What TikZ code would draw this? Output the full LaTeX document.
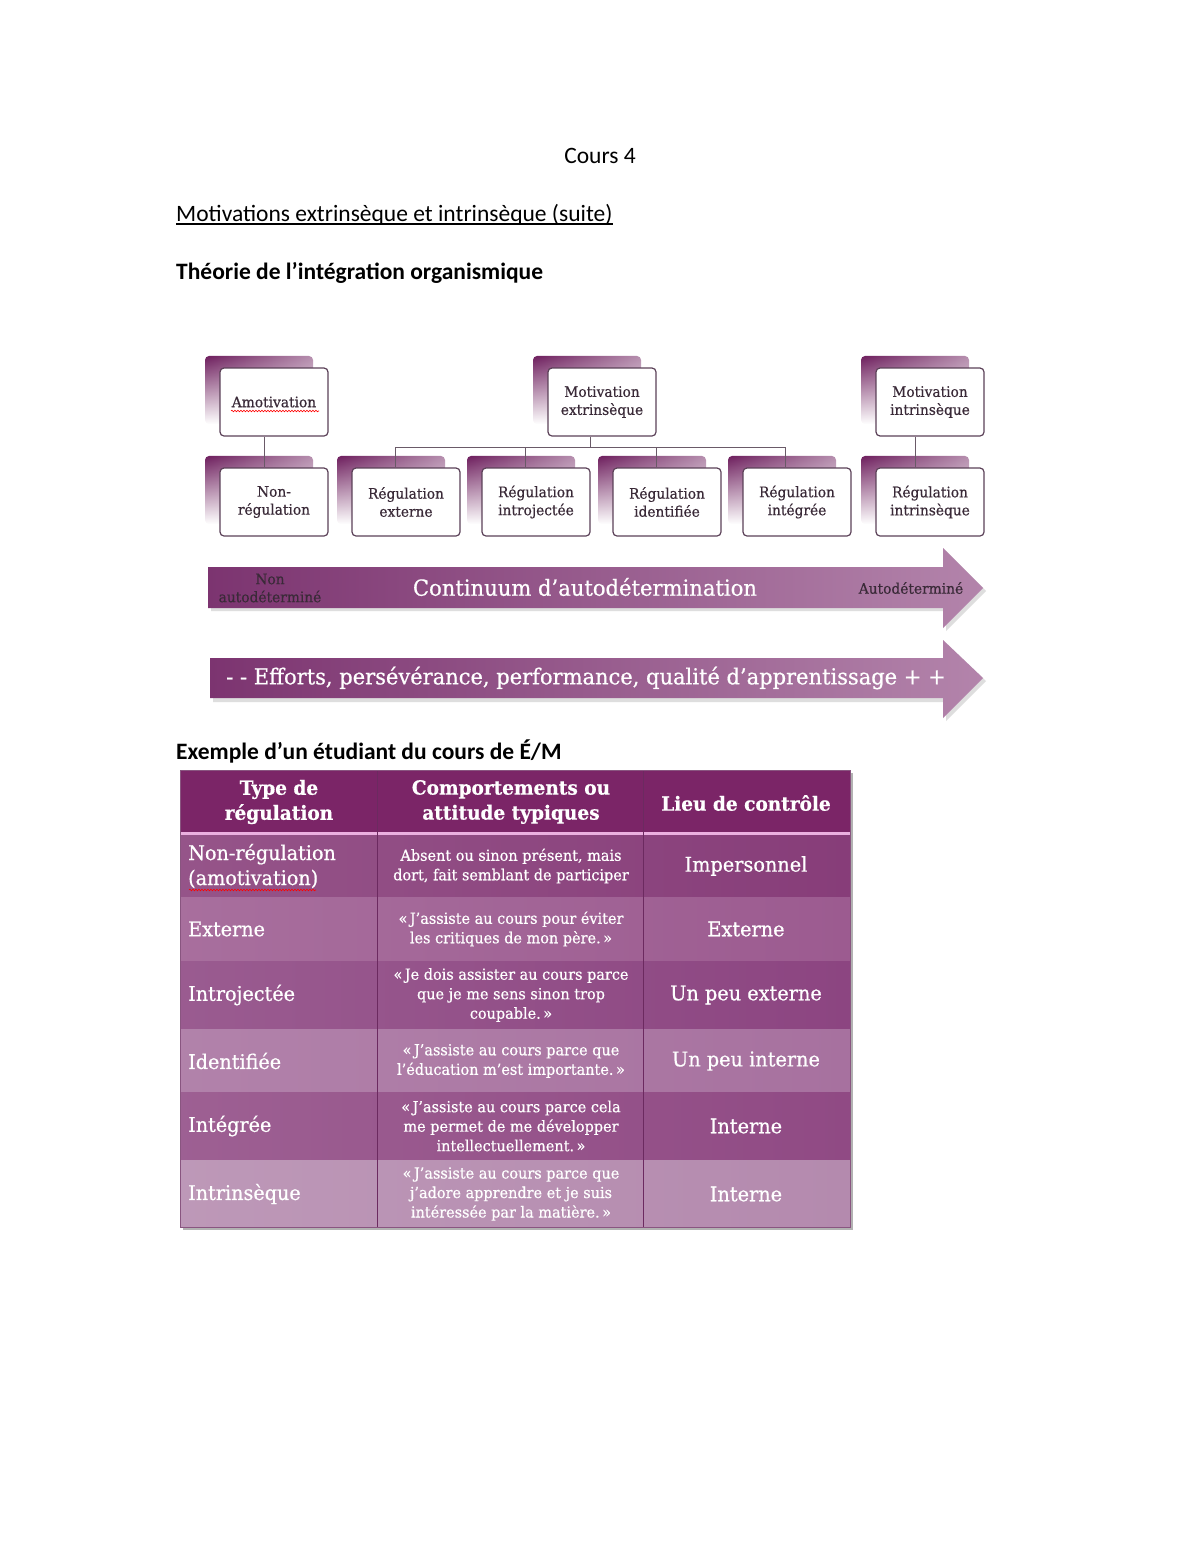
\documentclass[tikz,border=0pt]{standalone}
\usepackage{fontspec}
\setmainfont{Carlito}
\newfontfamily\slab{DejaVu Serif}[FakeStretch=0.95, FakeBold=0.6]
\usetikzlibrary{fadings,shadings,decorations.pathmorphing}
\definecolor{pdark}{HTML}{6E1F5E}
\definecolor{boxline}{HTML}{5B4158}
\definecolor{conncol}{HTML}{6A5A68}
\definecolor{arrL}{HTML}{7C3470}
\definecolor{arrR}{HTML}{B384AB}
\definecolor{thead}{HTML}{7B2567}
\definecolor{rowA}{HTML}{873D79}
\definecolor{rowB}{HTML}{9C5B90}
\definecolor{rowC}{HTML}{8C4581}
\definecolor{rowD}{HTML}{A7719F}
\definecolor{rowE}{HTML}{904A84}
\definecolor{rowF}{HTML}{B48AAE}
\definecolor{pinkline}{HTML}{EBB0E0}
\definecolor{colline}{HTML}{6C2A60}
\definecolor{darktxt}{HTML}{3A2A38}
\tikzset{
  frontbox/.style={draw=boxline, line width=1.2pt, rounded corners=4pt, fill=white,
    minimum width=108pt, minimum height=68pt, inner sep=2pt, align=center,
    font=\slab\fontsize{14.5}{18}\selectfont, text=darktxt},
  backshade/.style={left color=pdark, right color=pdark!50, path fading=south, rounded corners=4pt},
  conn/.style={draw=conncol, line width=1pt},
  bigarrow/.style={left color=arrL, right color=arrR},
  cellw/.style={text=white, align=center},
  spell/.style={draw=red, line width=0.6pt, decorate, decoration={snake, segment length=3pt, amplitude=0.8pt}},
}
\begin{document}
\begin{tikzpicture}[x=1pt,y=-1pt]
\useasboundingbox (0,0) rectangle (1200,1553);
\fill[white] (0,0) rectangle (1200,1553);

% header text
\node[anchor=base, font=\fontsize{23.5}{28}\selectfont] (cours) at (600,163) {Cours 4};
\node[anchor=base west, font=\fontsize{23.5}{28}\selectfont, inner sep=0pt] (motiv) at (176,221) {Motivations extrinsèque et intrinsèque (suite)};
\draw[line width=1.2pt] (motiv.base west) ++(0,3) -- ([yshift=-3pt]motiv.base east);
\node[anchor=base west, font=\bfseries\fontsize{23.5}{28}\selectfont, inner sep=0pt] (theorie) at (176,279) {Théorie de l’intégration organismique};

% boxes
\foreach \n/\x/\y/\t in {
  amot/274/402/Amotivation,
  extr/602/402/{Motivation\\extrinsèque},
  intr/930/402/{Motivation\\intrinsèque},
  nonreg/274/502/{Non-\\régulation},
  rext/406/502/{Régulation\\externe},
  rintro/536/502/{Régulation\\introjectée},
  rid/667/502/{Régulation\\identifiée},
  rint/797/502/{Régulation\\intégrée},
  rintr/930/502/{Régulation\\intrinsèque}} {
  \shade[backshade] (\x-69,\y-46) rectangle (\x+39,\y+22);
  \node[frontbox] (\n) at (\x,\y) {\t};
}
\draw[spell] (231,411) -- (319,411);

% connectors
\draw[conn] ([xshift=-10pt]amot.south) -- ([xshift=-10pt]nonreg.north);
\draw[conn] ([xshift=-12pt]extr.south) -- ++(0,11) coordinate (hub);
\draw[conn] (hub) -| ([xshift=-11pt]rext.north);
\draw[conn] (hub) -| ([xshift=-11pt]rintro.north);
\draw[conn] (hub) -| ([xshift=-11pt]rid.north);
\draw[conn] (hub) -| ([xshift=-12pt]rint.north);
\draw[conn] ([xshift=-15pt]intr.south) -- ([xshift=-15pt]rintr.north);

% arrow 1
\fill[black!25, opacity=0.5] (211,571) -- (946,571) -- (946,551) -- (986,591) -- (946,631) -- (946,611) -- (211,611) -- cycle;
\shade[bigarrow] (208,567) -- (943,567) -- (943,548) -- (983,588) -- (943,628) -- (943,608) -- (208,608) -- cycle;
\node[font=\slab\fontsize{22.2}{26}\selectfont, text=white] (cont) at (585,587) {Continuum d’autodétermination};
\node[font=\slab\fontsize{14.5}{18}\selectfont, text=darktxt, align=center] (nonauto) at (270,588) {Non\\autodéterminé};
\node[font=\slab\fontsize{14.5}{17}\selectfont, text=darktxt] (auto) at (911,588) {Autodéterminé};

% arrow 2
\fill[black!25, opacity=0.5] (213,662) -- (946,662) -- (946,643) -- (986,681) -- (946,721) -- (946,702) -- (213,702) -- cycle;
\shade[bigarrow] (210,658) -- (943,658) -- (943,640) -- (983,678) -- (943,718) -- (943,698) -- (210,698) -- cycle;
\node[font=\slab\fontsize{22.1}{26}\selectfont, text=white] (effort) at (586,678) {- - Efforts, persévérance, performance, qualité d’apprentissage + +};

% table title
\node[anchor=base west, font=\bfseries\fontsize{23.5}{28}\selectfont, inner sep=0pt] (exemple) at (176,759) {Exemple d’un étudiant du cours de É/M};

% table
\fill[black!30] (183,773) rectangle (853,1230);
\fill[thead] (180,770) rectangle (850,833);
\foreach \ya/\yb/\c in {835/897/rowA, 897/961/rowB, 961/1029/rowC, 1029/1092/rowD, 1092/1160/rowE, 1160/1227/rowF} {
  \shade[left color=\c!88!white, right color=\c] (180,\ya) rectangle (850,\yb);
  \draw[colline!60, line width=0.8pt] (180,\yb) -- (850,\yb);
}
\draw[pinkline, line width=3pt] (180,833) -- (850,833);
\draw[colline, line width=1pt] (377,770) -- (377,1227);
\draw[colline, line width=1pt] (643,770) -- (643,1227);
\draw[colline!80, line width=0.8pt] (180,770) rectangle (850,1227);

\node[cellw, font=\slab\bfseries\fontsize{19.5}{25}\selectfont] (h1) at (279,802) {Type de\\régulation};
\node[cellw, font=\slab\bfseries\fontsize{19.5}{25}\selectfont] (h2) at (511,802) {Comportements ou\\attitude typiques};
\node[cellw, font=\slab\bfseries\fontsize{19.5}{25}\selectfont] (h3) at (746,803) {Lieu de contrôle};

\tikzset{c1/.style={text=white, anchor=west, align=left, inner sep=0pt, font=\slab\fontsize{20.2}{25}\selectfont},
         c2/.style={cellw, font=\slab\fontsize{15.2}{19.5}\selectfont},
         c3/.style={cellw, font=\slab\fontsize{20.3}{24}\selectfont}}
\node[c1] (a1) at (188,866) {Non-régulation\\(amotivation)};
\draw[spell] (189,890) -- (316,890);
\node[c2] (b1) at (511,866) {Absent ou sinon présent, mais\\dort, fait semblant de participer};
\node[c3] (d1) at (746,866) {Impersonnel};

\node[c1] (a2) at (188,929) {Externe};
\node[c2] (b2) at (511,929) {«\,J’assiste au cours pour éviter\\les critiques de mon père.\,»};
\node[c3] (d2) at (746,929) {Externe};

\node[c1] (a3) at (188,995) {Introjectée};
\node[c2] (b3) at (511,995) {«\,Je dois assister au cours parce\\que je me sens sinon trop\\coupable.\,»};
\node[c3] (d3) at (746,995) {Un peu externe};

\node[c1] (a4) at (188,1061) {Identifiée};
\node[c2] (b4) at (511,1061) {«\,J’assiste au cours parce que\\l’éducation m’est importante.\,»};
\node[c3] (d4) at (746,1061) {Un peu interne};

\node[c1] (a5) at (188,1126) {Intégrée};
\node[c2] (b5) at (511,1126) {«\,J’assiste au cours parce cela\\me permet de me développer\\intellectuellement.\,»};
\node[c3] (d5) at (746,1126) {Interne};

\node[c1] (a6) at (188,1194) {Intrinsèque};
\node[c2] (b6) at (511,1194) {«\,J’assiste au cours parce que\\j’adore apprendre et je suis\\intéressée par la matière.\,»};
\node[c3] (d6) at (746,1194) {Interne};
\end{tikzpicture}
\end{document}
